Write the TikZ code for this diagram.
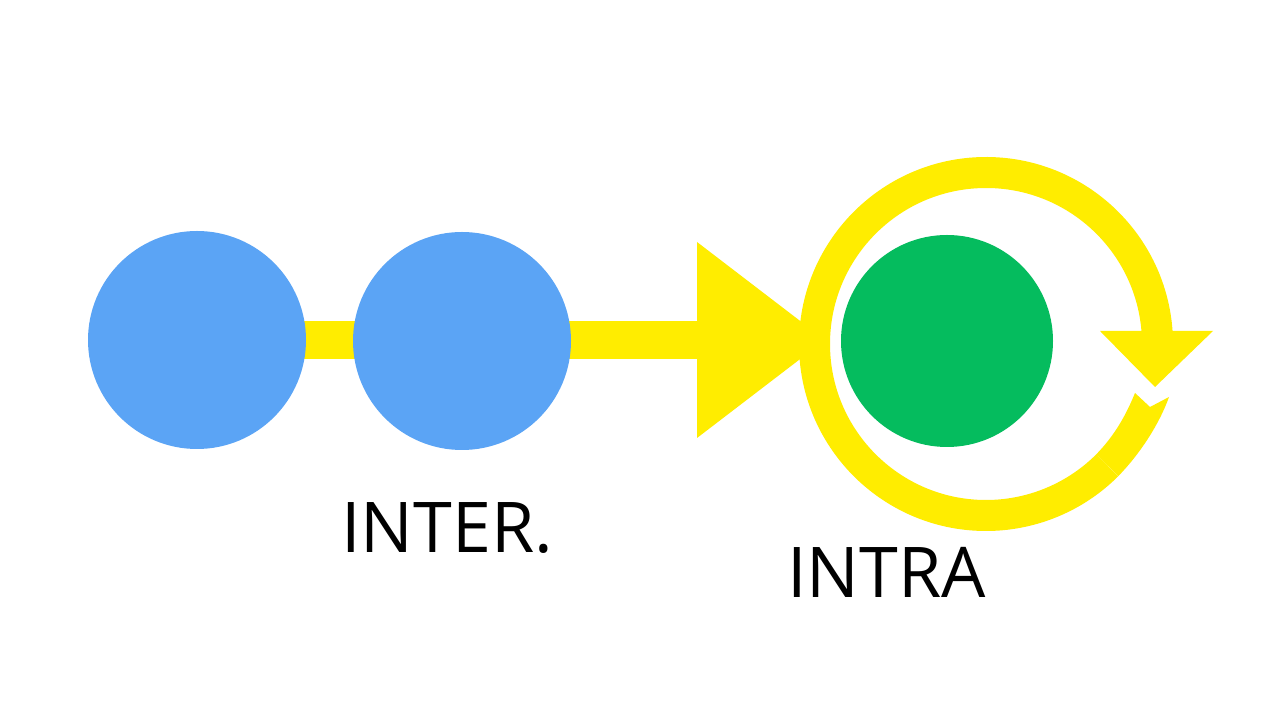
\documentclass[tikz,border=0pt]{standalone}
\usepackage{fontspec}
\setmainfont{Open Sans}
\usetikzlibrary{calc,backgrounds}
\definecolor{ylw}{HTML}{FFED00}
\definecolor{blu}{HTML}{5BA4F5}
\definecolor{grn}{HTML}{05BC5E}
\tikzset{
  ball/.style={circle,inner sep=0pt,outer sep=0pt,minimum size=#1},
  bar/.style={draw=ylw,line width=38pt},
  ringline/.style={draw=ylw,line width=31pt},
  head/.style={fill=ylw,draw=none},
  lab/.style={inner sep=0pt,text=black,font=\fontsize{70}{70}\selectfont}
}
\begin{document}
\begin{tikzpicture}[x=1pt,y=1pt]
\useasboundingbox (0,0) rectangle (1280,720);
\coordinate (ctr) at (986,376);
\coordinate (barend) at (700,380);
\node[ball=218pt,fill=blu] (b1) at (197,380) {};
\node[ball=218pt,fill=blu] (b2) at (462,379) {};
\begin{pgfonlayer}{background}
\fill[white] (0,0) rectangle (1280,720);
\draw[bar] (b1.center) -- (b1.center -| b2.center) -- (barend);
\end{pgfonlayer}
% straight arrow head, its tip merges into the ring
\fill[head] (697,478) -- (825,380) -- (697,282) -- cycle;
% ring
\draw[ringline] (ctr) ++(1:171.5) arc[start angle=1,end angle=315,radius=171.5];
\fill[head] (1118.2,243.8) .. controls (1139,265) and (1159,295) .. (1169,323) -- (1150,313) -- (1135,327) .. controls (1124,300) and (1112,282) .. (1096.3,265.7) -- cycle;
\fill[head] (1100,389) -- (1213,389) -- (1155,333) -- cycle;
\node[ball=212pt,fill=grn] (g) at (947,379) {};
\node[lab,anchor=base west] (inter) at (341,167) {INTER.};
\node[lab,anchor=base west] (intra) at (787,122) {INTRA};
\end{tikzpicture}
\end{document}
